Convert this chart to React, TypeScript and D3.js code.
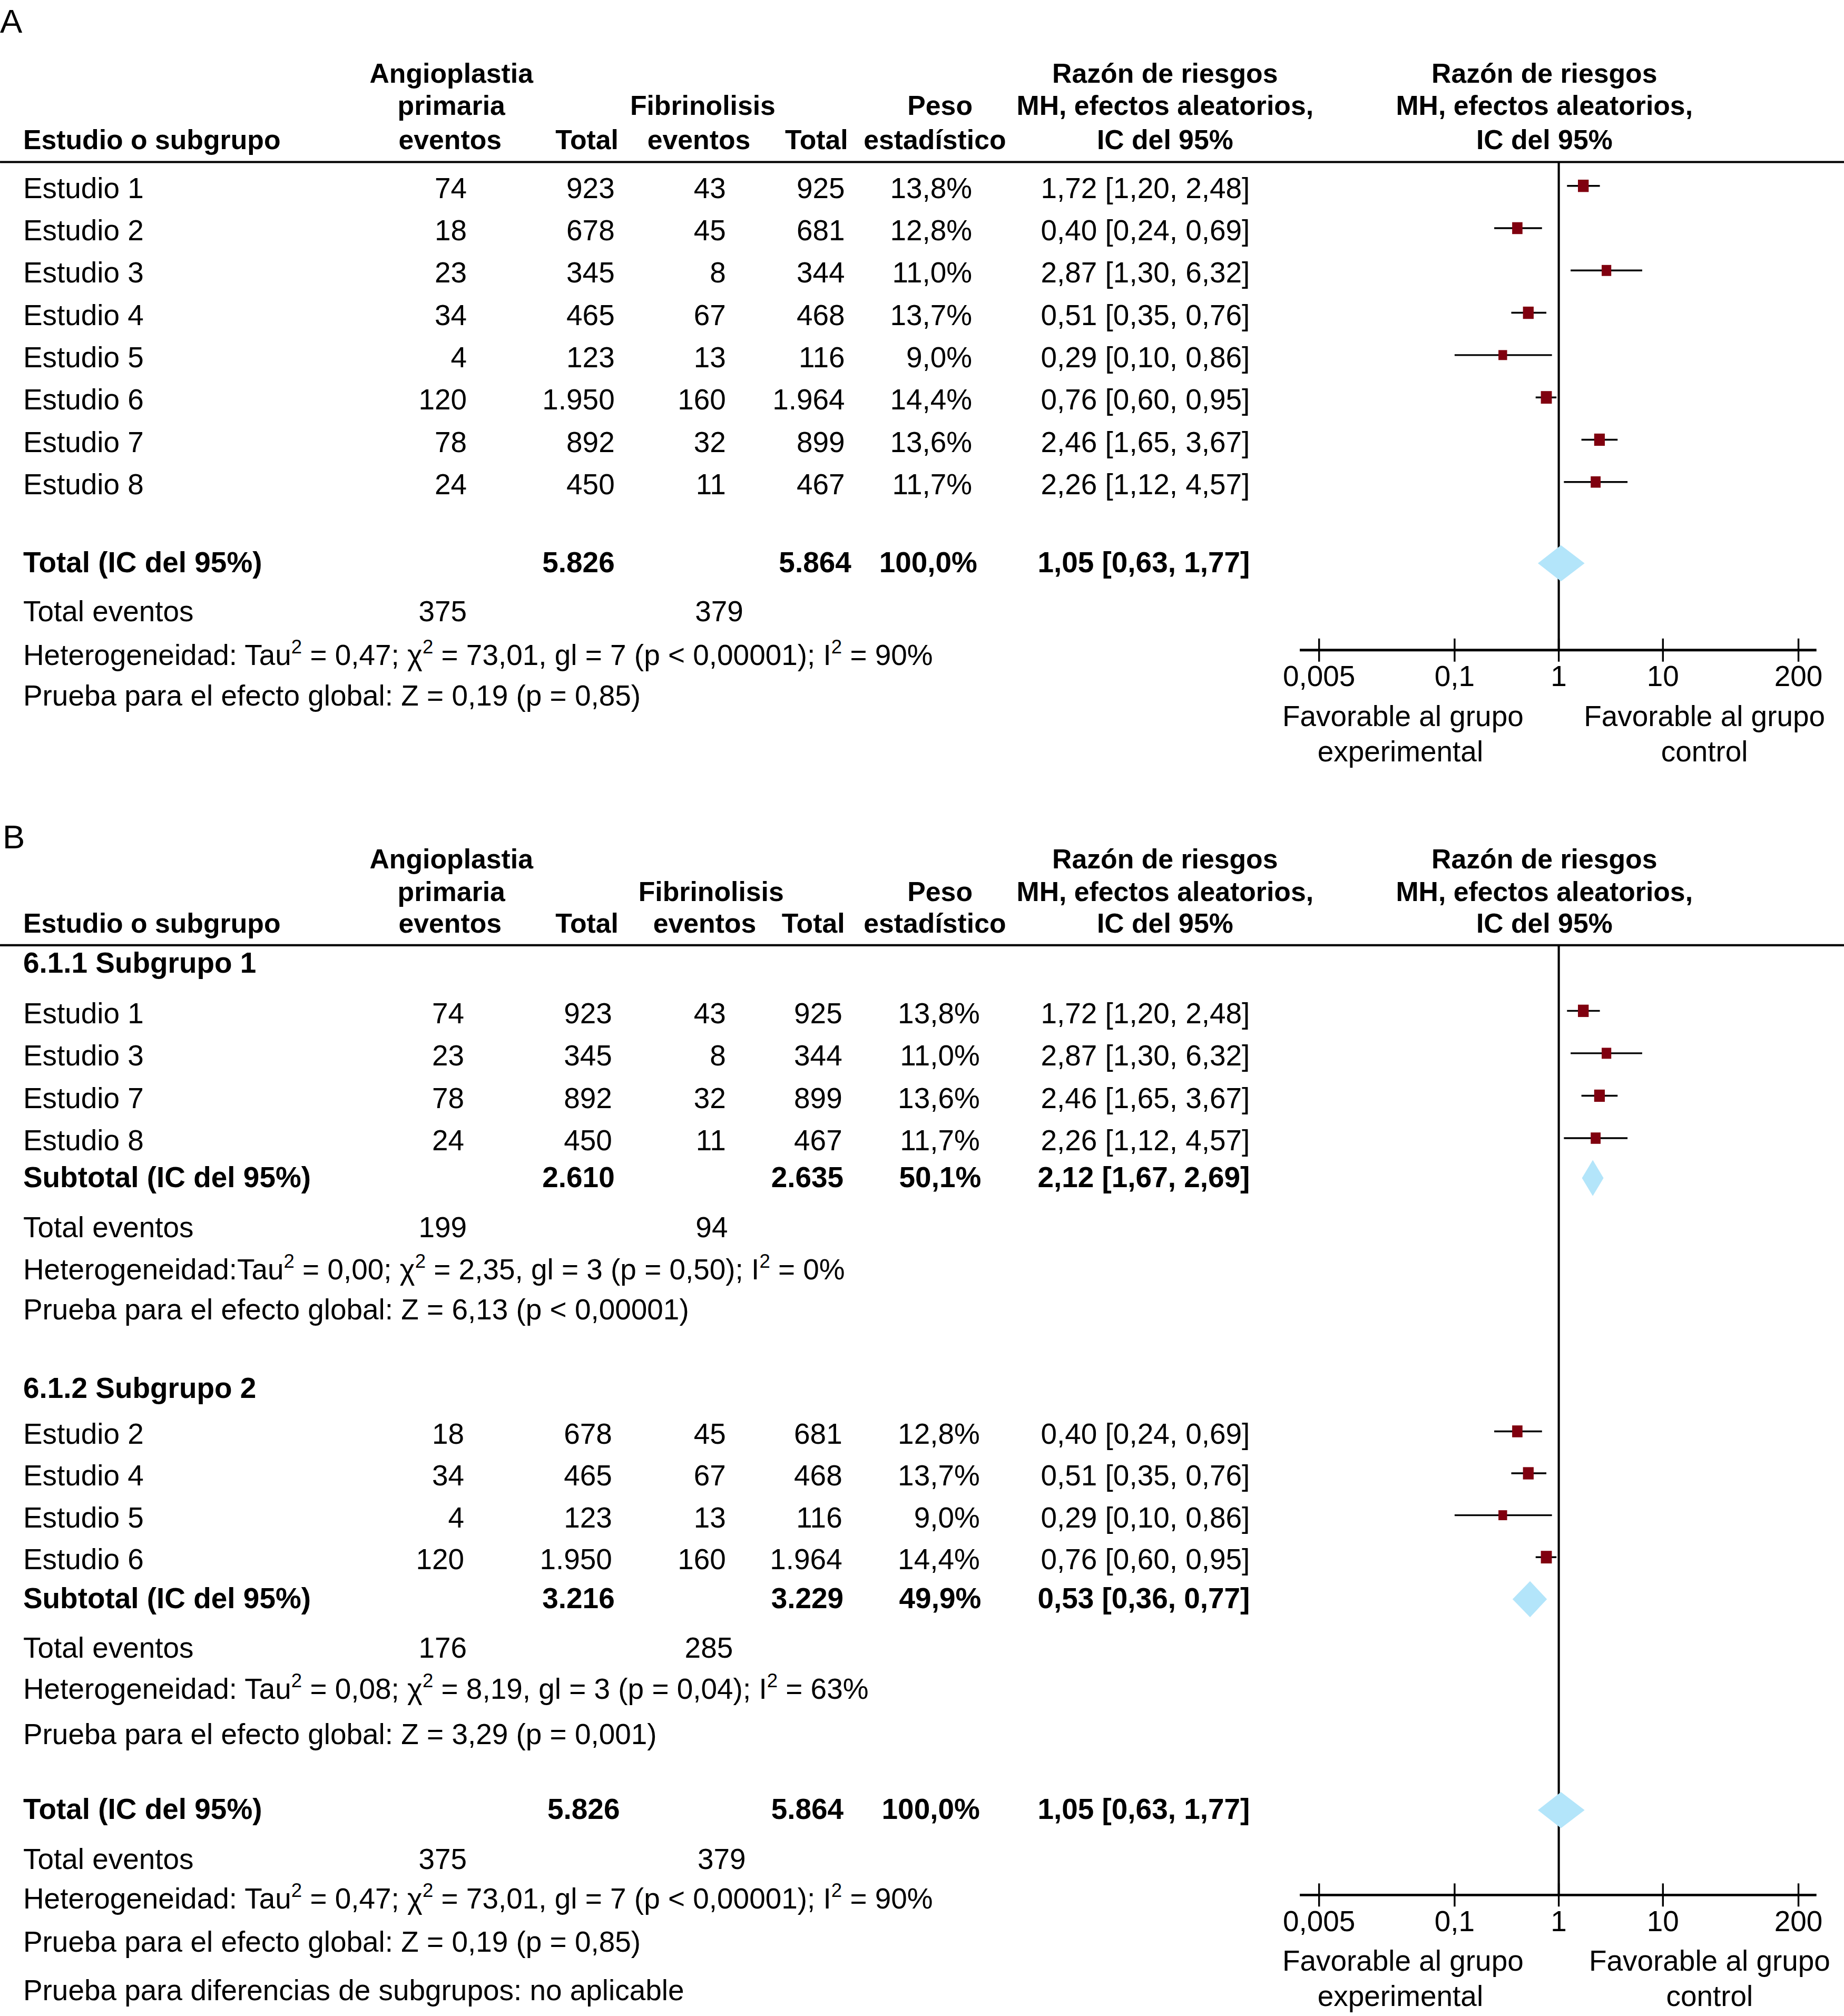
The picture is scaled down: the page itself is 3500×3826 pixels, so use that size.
import React from 'react';
import * as d3 from 'd3';

// study level data
const studyNames = ['Estudio 1', 'Estudio 2', 'Estudio 3', 'Estudio 4', 'Estudio 5', 'Estudio 6', 'Estudio 7', 'Estudio 8'];
const angioEvents = [74, 18, 23, 34, 4, 120, 78, 24];
const angioTotals = [923, 678, 345, 465, 123, 1950, 892, 450];
const fibEvents = [43, 45, 8, 67, 13, 160, 32, 11];
const fibTotals = [925, 681, 344, 468, 116, 1964, 899, 467];
const weights = [13.8, 12.8, 11.0, 13.7, 9.0, 14.4, 13.6, 11.7];
const riskRatio = [1.72, 0.4, 2.87, 0.51, 0.29, 0.76, 2.46, 2.26];
const ciLow = [1.2, 0.24, 1.3, 0.35, 0.1, 0.6, 1.65, 1.12];
const ciHigh = [2.48, 0.69, 6.32, 0.76, 0.86, 0.95, 3.67, 4.57];

// subgroups (panel B)
const subgroupNames = ['6.1.1 Subgrupo 1', '6.1.2 Subgrupo 2'];
const subgroupStudies = [[0, 2, 6, 7], [1, 3, 4, 5]];
const subAngioTotal = [2610, 3216];
const subFibTotal = [2635, 3229];
const subWeight = [50.1, 49.9];
const subRR = [2.12, 0.53];
const subLow = [1.67, 0.36];
const subHigh = [2.69, 0.77];
const subAngioEvents = [199, 176];
const subFibEvents = [94, 285];
const subTau2 = [0.0, 0.08];
const subChi2 = [2.35, 8.19];
const subDf = [3, 3];
const subP = ['p = 0,50', 'p = 0,04'];
const subI2 = [0, 63];
const subZ = [6.13, 3.29];
const subZp = ['p < 0,00001', 'p = 0,001'];

// overall
const totalAngio = 5826;
const totalFib = 5864;
const totalWeight = 100.0;
const totalRR = 1.05;
const totalLow = 0.63;
const totalHigh = 1.77;
const totalAngioEvents = 375;
const totalFibEvents = 379;
const totalTau2 = 0.47;
const totalChi2 = 73.01;
const totalDf = 7;
const totalP = 'p < 0,00001';
const totalI2 = 90;
const totalZ = 0.19;
const totalZp = 'p = 0,85';

const axisTicks = [0.005, 0.1, 1, 10, 200];

const W = 1434;
const H = 1567.6;
const FONT = '"Liberation Sans", Arial, Helvetica, sans-serif';
const MARKER = '#80000f';
const DIAMOND = '#b3e5fa';

const es = d3.formatLocale({ decimal: ',', thousands: '.', grouping: [3], currency: ['', ' €'] });
const fmtN = es.format(',d');
const fmt1 = es.format('.1f');
const fmt2 = es.format('.2f');
const fmtTick = es.format('~g');
const ciText = (r: number, l: number, h: number) => `${fmt2(r)} [${fmt2(l)}, ${fmt2(h)}]`;

const x = d3.scaleLog().domain([0.005, 200]).range([1025.8, 1398.6]);
const boxH = d3.scaleSqrt().domain([0, 14.4]).range([0, 9.8]);

const Sup = () => <tspan baselineShift="9" fontSize={15}>2</tspan>;

type Cols = { ae: number; at: number; fe: number; ft: number; w: number; ci: number };

function StudyRow({ i, y, cols }: { i: number; y: number; cols: Cols }) {
  const h = boxH(weights[i]);
  const w = h * 0.87;
  const tb = y + 9.5;
  return (
    <g>
      <text x={18} y={tb}>{studyNames[i]}</text>
      <text x={cols.ae} y={tb} textAnchor="end">{fmtN(angioEvents[i])}</text>
      <text x={cols.at} y={tb} textAnchor="end">{fmtN(angioTotals[i])}</text>
      <text x={cols.fe} y={tb} textAnchor="end">{fmtN(fibEvents[i])}</text>
      <text x={cols.ft} y={tb} textAnchor="end">{fmtN(fibTotals[i])}</text>
      <text x={cols.w} y={tb} textAnchor="end">{fmt1(weights[i])}%</text>
      <text x={cols.ci} y={tb} textAnchor="end">{ciText(riskRatio[i], ciLow[i], ciHigh[i])}</text>
      <line x1={x(ciLow[i])} x2={x(ciHigh[i])} y1={y} y2={y} stroke="#000" strokeWidth={1.4} />
      <rect x={x(riskRatio[i]) - w / 2} y={y - h / 2} width={w} height={h} fill={MARKER} />
    </g>
  );
}

function SummaryRow(p: {
  label: string; y: number; at: number; ft: number; w: number; r: number; l: number; h: number;
  cols: { at: number; ft: number; w: number };
}) {
  const tb = p.y + 7;
  const d = `M${x(p.l)},${p.y}L${x(p.r)},${p.y - 14}L${x(p.h)},${p.y}L${x(p.r)},${p.y + 14}Z`;
  return (
    <g fontWeight="bold">
      <text x={18} y={tb}>{p.label}</text>
      <text x={p.cols.at} y={tb} textAnchor="end">{fmtN(p.at)}</text>
      <text x={p.cols.ft} y={tb} textAnchor="end">{fmtN(p.ft)}</text>
      <text x={p.cols.w} y={tb} textAnchor="end">{fmt1(p.w)}%</text>
      <text x={972} y={tb} textAnchor="end">{ciText(p.r, p.l, p.h)}</text>
      <path d={d} fill={DIAMOND} />
    </g>
  );
}

function FooterLines(p: {
  events: [number, number]; fibX: number; tau2: number; chi2: number; df: number; pv: string; i2: number;
  z: number; zp: string; base: [number, number, number]; sep?: string;
}) {
  return (
    <g>
      <text x={18} y={p.base[0]}>Total eventos</text>
      <text x={363} y={p.base[0]} textAnchor="end">{fmtN(p.events[0])}</text>
      <text x={p.fibX} y={p.base[0]} textAnchor="end">{fmtN(p.events[1])}</text>
      <text x={18} y={p.base[1]}>
        {`Heterogeneidad:${p.sep ?? ' '}Tau`}<Sup />{` = ${fmt2(p.tau2)}; χ`}<Sup />
        {` = ${fmt2(p.chi2)}, gl = ${p.df} (${p.pv}); I`}<Sup />{` = ${p.i2}%`}
      </text>
      <text x={18} y={p.base[2]}>{`Prueba para el efecto global: Z = ${fmt2(p.z)} (${p.zp})`}</text>
    </g>
  );
}

function Header(p: { base: number[]; rule: number; fib: [number, number]; fibTotal: number }) {
  const [b1, b2, b3] = p.base;
  return (
    <g fontWeight="bold" fontSize={21.2}>
      <text x={351} y={b1} textAnchor="middle">Angioplastia</text>
      <text x={351} y={b2} textAnchor="middle">primaria</text>
      <text x={350} y={b3} textAnchor="middle">eventos</text>
      <text x={18} y={b3}>Estudio o subgrupo</text>
      <text x={481} y={b3} textAnchor="end">Total</text>
      <text x={p.fib[0]} y={b2} textAnchor="middle">Fibrinolisis</text>
      <text x={p.fib[1]} y={b3} textAnchor="middle">eventos</text>
      <text x={p.fibTotal} y={b3} textAnchor="end">Total</text>
      <text x={731} y={b2} textAnchor="middle">Peso</text>
      <text x={727} y={b3} textAnchor="middle">estadístico</text>
      {[906, 1201].map((cx) => (
        <g key={cx}>
          <text x={cx} y={b1} textAnchor="middle">Razón de riesgos</text>
          <text x={cx} y={b2} textAnchor="middle">MH, efectos aleatorios,</text>
          <text x={cx} y={b3} textAnchor="middle">IC del 95%</text>
        </g>
      ))}
      <line x1={0} x2={W} y1={p.rule} y2={p.rule} stroke="#000" strokeWidth={1.7} />
    </g>
  );
}

function Axis({ y, rightLabel }: { y: number; rightLabel: number }) {
  const [r0, r1] = x.range();
  return (
    <g>
      <line x1={r0 - 15} x2={r1 + 14} y1={y} y2={y} stroke="#000" strokeWidth={2} />
      {axisTicks.map((t) => (
        <g key={t}>
          <line x1={x(t)} x2={x(t)} y1={y - 9} y2={y + 9} stroke="#000" strokeWidth={1.4} />
          <text x={x(t)} y={y + 28} textAnchor="middle">{fmtTick(t)}</text>
        </g>
      ))}
      <text x={1091} y={y + 59} textAnchor="middle">Favorable al grupo</text>
      <text x={1089} y={y + 86.5} textAnchor="middle">experimental</text>
      <text x={rightLabel} y={y + 59} textAnchor="middle">Favorable al grupo</text>
      <text x={rightLabel} y={y + 86.5} textAnchor="middle">control</text>
    </g>
  );
}

function PanelA() {
  const rowY = d3.scaleLinear().domain([0, 7]).range([144.5, 374.8]);
  const cols: Cols = { ae: 363, at: 478, fe: 564.5, ft: 657, w: 756, ci: 972 };
  const axisY = 505.5;
  return (
    <g>
      <text x={0} y={25.3} fontSize={26}>A</text>
      <Header base={[64.2, 89.4, 116.1]} rule={126} fib={[546.5, 543.5]} fibTotal={659.5} />
      <line x1={x(1)} x2={x(1)} y1={126} y2={axisY} stroke="#000" strokeWidth={1.7} />
      {studyNames.map((_, i) => <StudyRow key={i} i={i} y={rowY(i)} cols={cols} />)}
      <SummaryRow label="Total (IC del 95%)" y={438} at={totalAngio} ft={totalFib} w={totalWeight}
        r={totalRR} l={totalLow} h={totalHigh} cols={{ at: 478, ft: 662, w: 760 }} />
      <FooterLines events={[totalAngioEvents, totalFibEvents]} fibX={578} tau2={totalTau2} chi2={totalChi2}
        df={totalDf} pv={totalP} i2={totalI2} z={totalZ} zp={totalZp} base={[483, 517, 548.5]} />
      <Axis y={axisY} rightLabel={1325.5} />
    </g>
  );
}

function PanelB() {
  const cols: Cols = { ae: 361, at: 476, fe: 564.5, ft: 655, w: 762, ci: 972 };
  const sumCols = { at: 478, ft: 656, w: 763 };
  const axisY = 1473.5;
  const groups = [
    { head: 756.5, first: 786, step: 33, sub: 916, foot: [962, 995, 1026] as [number, number, number], fibX: 566, sep: '' },
    { head: 1087, first: 1113, step: 32.6, sub: 1243.5, foot: [1289, 1321, 1356] as [number, number, number], fibX: 570, sep: ' ' },
  ];
  return (
    <g>
      <text x={2} y={659.6} fontSize={26}>B</text>
      <Header base={[675.3, 700.5, 725.1]} rule={735} fib={[553, 548]} fibTotal={657} />
      <line x1={x(1)} x2={x(1)} y1={735} y2={axisY} stroke="#000" strokeWidth={1.7} />
      {groups.map((g, k) => {
        const rowY = d3.scaleLinear().domain([0, 1]).range([g.first, g.first + g.step]);
        return (
          <g key={k}>
            <text x={18} y={g.head} fontWeight="bold">{subgroupNames[k]}</text>
            {subgroupStudies[k].map((s, j) => <StudyRow key={s} i={s} y={rowY(j)} cols={cols} />)}
            <SummaryRow label="Subtotal (IC del 95%)" y={g.sub} at={subAngioTotal[k]} ft={subFibTotal[k]}
              w={subWeight[k]} r={subRR[k]} l={subLow[k]} h={subHigh[k]} cols={sumCols} />
            <FooterLines events={[subAngioEvents[k], subFibEvents[k]]} fibX={g.fibX} tau2={subTau2[k]}
              chi2={subChi2[k]} df={subDf[k]} pv={subP[k]} i2={subI2[k]} z={subZ[k]} zp={subZp[k]}
              base={g.foot} sep={g.sep} />
          </g>
        );
      })}
      <SummaryRow label="Total (IC del 95%)" y={1407.5} at={totalAngio} ft={totalFib} w={totalWeight}
        r={totalRR} l={totalLow} h={totalHigh} cols={{ at: 482, ft: 656, w: 762 }} />
      <FooterLines events={[totalAngioEvents, totalFibEvents]} fibX={580} tau2={totalTau2} chi2={totalChi2}
        df={totalDf} pv={totalP} i2={totalI2} z={totalZ} zp={totalZp} base={[1453.4, 1484.2, 1517.5]} />
      <text x={18} y={1555.4}>Prueba para diferencias de subgrupos: no aplicable</text>
      <Axis y={axisY} rightLabel={1329.5} />
    </g>
  );
}

export default function App() {
  return (
    <svg
      width={3500}
      height={3826}
      viewBox={`0 0 ${W} ${H}`}
      style={{ position: 'absolute', left: 0, top: 0, background: '#fff' }}
      fontFamily={FONT}
      fontSize={22.5}
    >
      <PanelA />
      <PanelB />
    </svg>
  );
}
